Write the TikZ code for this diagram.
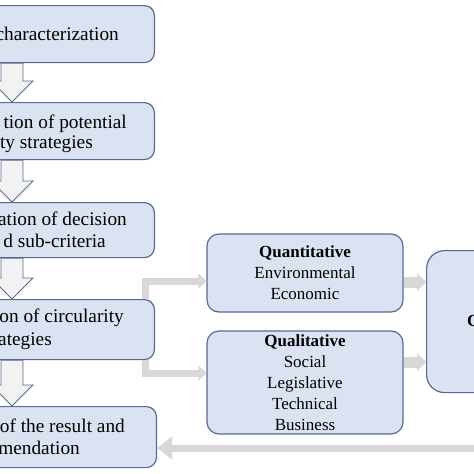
\documentclass[tikz,border=0pt]{standalone}
\usepackage{fontspec}
\setmainfont{Liberation Serif}
\usetikzlibrary{arrows.meta}
\definecolor{boxfill}{RGB}{219,227,243}
\definecolor{boxline}{RGB}{88,106,145}
\definecolor{flowgray}{RGB}{216,216,216}
\definecolor{blockfill}{RGB}{242,242,242}
\newcommand*{\lefttextstyle}{\fontsize{19.3}{23}\selectfont}
\newcommand*{\midtextstyle}{\fontsize{17}{21}\selectfont}
\newcommand{\blockarrow}[2]{%
   % hollow arrow from the bottom of box #1 to the top of box #2
   \draw[blockline] ([xshift=-11pt]#1.south -| ax)
      -- ([xshift=-11pt,yshift=21pt]#2.north -| ax)
      -- ([xshift=-21pt,yshift=21pt]#2.north -| ax)
      -- (#2.north -| ax)
      -- ([xshift=21pt,yshift=21pt]#2.north -| ax)
      -- ([xshift=11pt,yshift=21pt]#2.north -| ax)
      -- ([xshift=11pt]#1.south -| ax) -- cycle;
}

\begin{document}
\begin{tikzpicture}[x=1pt, y=-1pt,
   leftbox/.style={draw=boxline, fill=boxfill, line width=1.2pt,
      rounded corners=10pt, minimum width=350pt, anchor=north east, inner sep=0pt},
   midbox/.style={draw=boxline, fill=boxfill, line width=1.2pt,
      rounded corners=12pt, minimum width=196pt, inner sep=0pt,
      align=center, font=\midtextstyle},
   linetext/.style={anchor=base east, inner sep=0pt, font=\lefttextstyle},
   blockline/.style={draw=boxline, fill=blockfill, line width=0.8pt},
   flow/.style={draw=flowgray, line width=7pt, -{Triangle[length=8pt,width=15pt]}},
   fat/.style={draw=flowgray, line width=11pt, -{Triangle[length=9pt,width=18pt]}}
]
\useasboundingbox (0,0) rectangle (474,474);
\clip (0,0) rectangle (474,474);

\coordinate (ax) at (12,0);
\coordinate (fork) at (145,0);
\coordinate (back) at (480,448);

% steps on the left
\node[leftbox, minimum height=57pt] (box1) at (155,5) {};
\node[leftbox, minimum height=57pt] (box2) at (155,102) {};
\node[leftbox, minimum height=55pt] (box3) at (155,202) {};
\node[leftbox, minimum height=60pt] (box4) at (155,299) {};
\node[leftbox, minimum height=61pt] (box5) at (157,406) {};

\node[linetext] (t1) at (119,40) {-characterization};
\node[linetext] (t2a) at (127,128) {tion of potential};
\node[linetext] (t2b) at (93,148) {ty strategies};
\node[linetext] (t3a) at (127,225) {ation of decision};
\node[linetext] (t3b) at (106,247) {d sub-criteria};
\node[linetext] (t4a) at (124,322) {on of circularity};
\node[linetext] (t4b) at (52,345) {ategies};
\node[linetext] (t5a) at (125,432) {of the result and};
\node[linetext] (t5b) at (80,454) {mendation};

\blockarrow{box1}{box2}
\blockarrow{box2}{box3}
\blockarrow{box3}{box4}
\blockarrow{box4}{box5}

% criteria
\node[midbox, minimum height=78pt] (quant) at (305,273)
   {\textbf{Quantitative}\\Environmental\\Economic};
\node[midbox, minimum height=103pt] (qual) at (305,382.5)
   {\textbf{Qualitative}\\Social\\Legislative\\Technical\\Business};

\node[midbox, minimum width=150pt, minimum height=142pt, rounded corners=18pt,
   anchor=north west] (assess) at (426,250) {};
\node[anchor=base west, inner sep=0pt, font=\midtextstyle\bfseries] (assesstext)
   at (467,326) {C};

\draw[flow] (box4.north -| fork) |- ([yshift=-8pt]quant.west);
\draw[flow] (box4.south -| fork) |- ([yshift=9.5pt]qual.west);
\draw[fat] ([yshift=-9pt]quant.east) -- ([yshift=-9pt]quant.east -| assess.west);
\draw[fat] ([yshift=20.5pt]qual.east) -- ([yshift=20.5pt]qual.east -| assess.west);
\draw[flow, -{Triangle[length=15pt,width=22pt]}] (back) -- (back -| box5.east);

\end{tikzpicture}
\end{document}
